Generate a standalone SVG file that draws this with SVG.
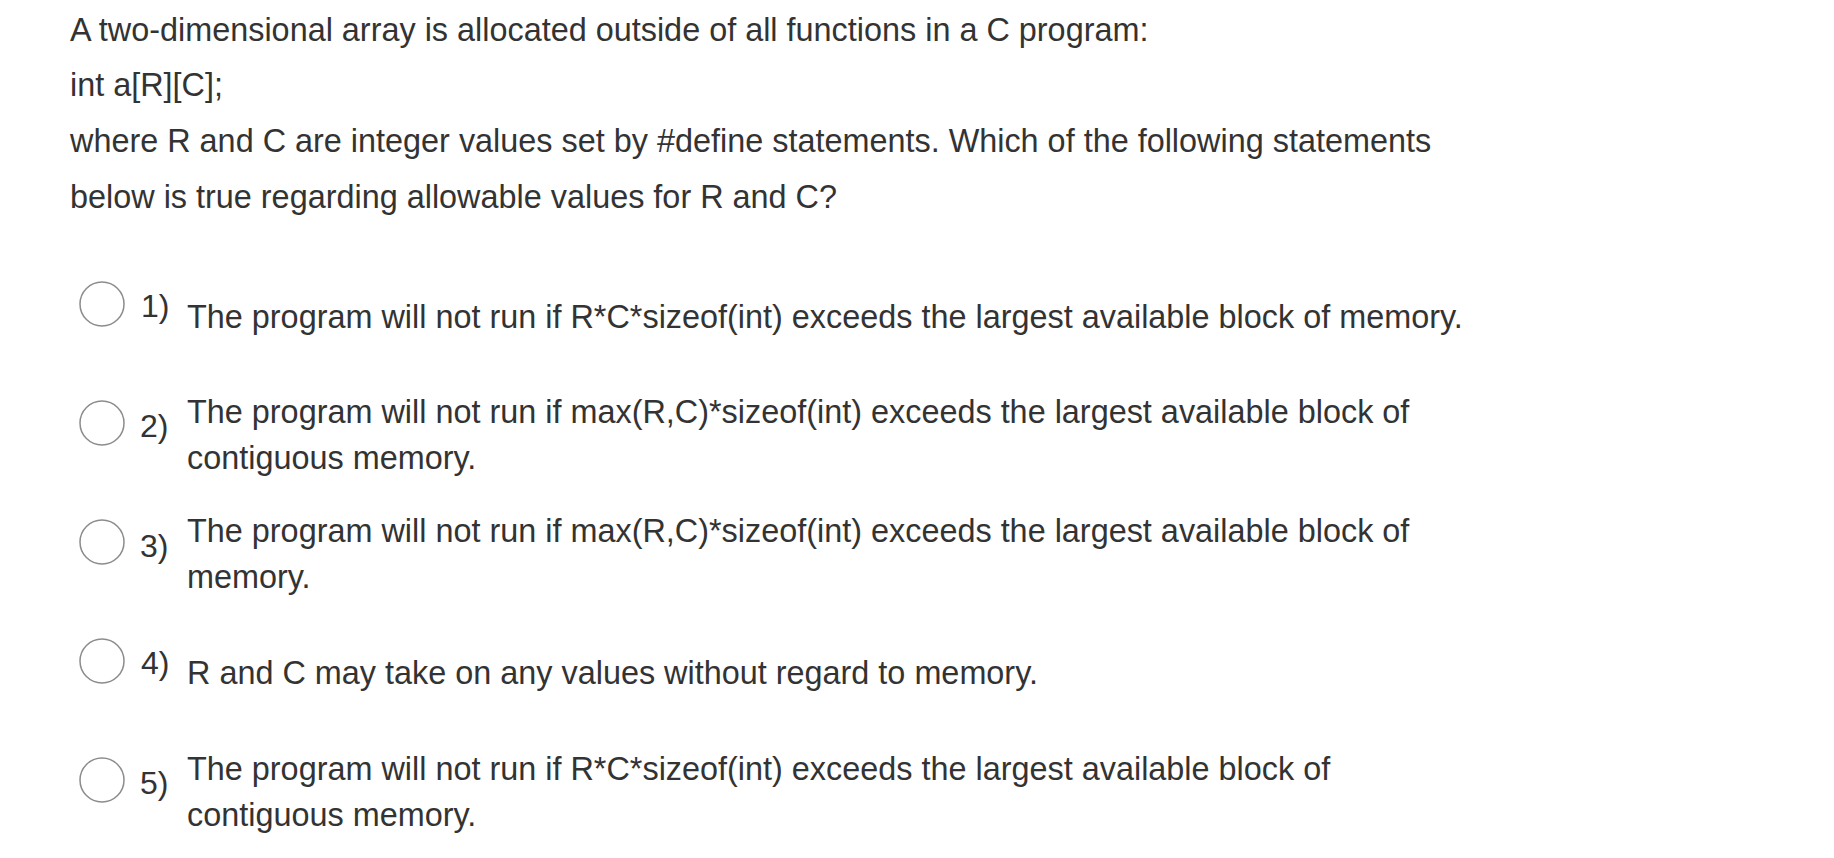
<svg xmlns="http://www.w3.org/2000/svg" width="1834" height="858" viewBox="0 0 1834 858">
<style>
text{font-family:"Liberation Sans",Arial,sans-serif;font-size:32.4px;fill:#333}
.n{font-size:32px}
circle{fill:#fff;stroke:#8c8c8c;stroke-width:1.5}
</style>
<rect width="1834" height="858" fill="#fff"/>
<g id="question">
<text x="70" y="41">A two-dimensional array is allocated outside of all functions in a C program:</text>
<text x="70" y="96">int a[R][C];</text>
<text x="70" y="152">where R and C are integer values set by #define statements. Which of the following statements</text>
<text x="70" y="208">below is true regarding allowable values for R and C?</text>
</g>
<g id="opt1"><circle cx="102" cy="304" r="22"/><text class="n" x="141" y="317">1)</text>
<text x="187" y="328">The program will not run if R*C*sizeof(int) exceeds the largest available block of memory.</text></g>
<g id="opt2"><circle cx="102" cy="423" r="22"/><text class="n" x="140" y="437">2)</text>
<text x="187" y="423">The program will not run if max(R,C)*sizeof(int) exceeds the largest available block of</text>
<text x="187" y="469">contiguous memory.</text></g>
<g id="opt3"><circle cx="102" cy="542" r="22"/><text class="n" x="140" y="557">3)</text>
<text x="187" y="542">The program will not run if max(R,C)*sizeof(int) exceeds the largest available block of</text>
<text x="187" y="588">memory.</text></g>
<g id="opt4"><circle cx="102" cy="661" r="22"/><text class="n" x="141" y="674">4)</text>
<text x="187" y="684">R and C may take on any values without regard to memory.</text></g>
<g id="opt5"><circle cx="102" cy="780" r="22"/><text class="n" x="140" y="794">5)</text>
<text x="187" y="780">The program will not run if R*C*sizeof(int) exceeds the largest available block of</text>
<text x="187" y="826">contiguous memory.</text></g>
</svg>
